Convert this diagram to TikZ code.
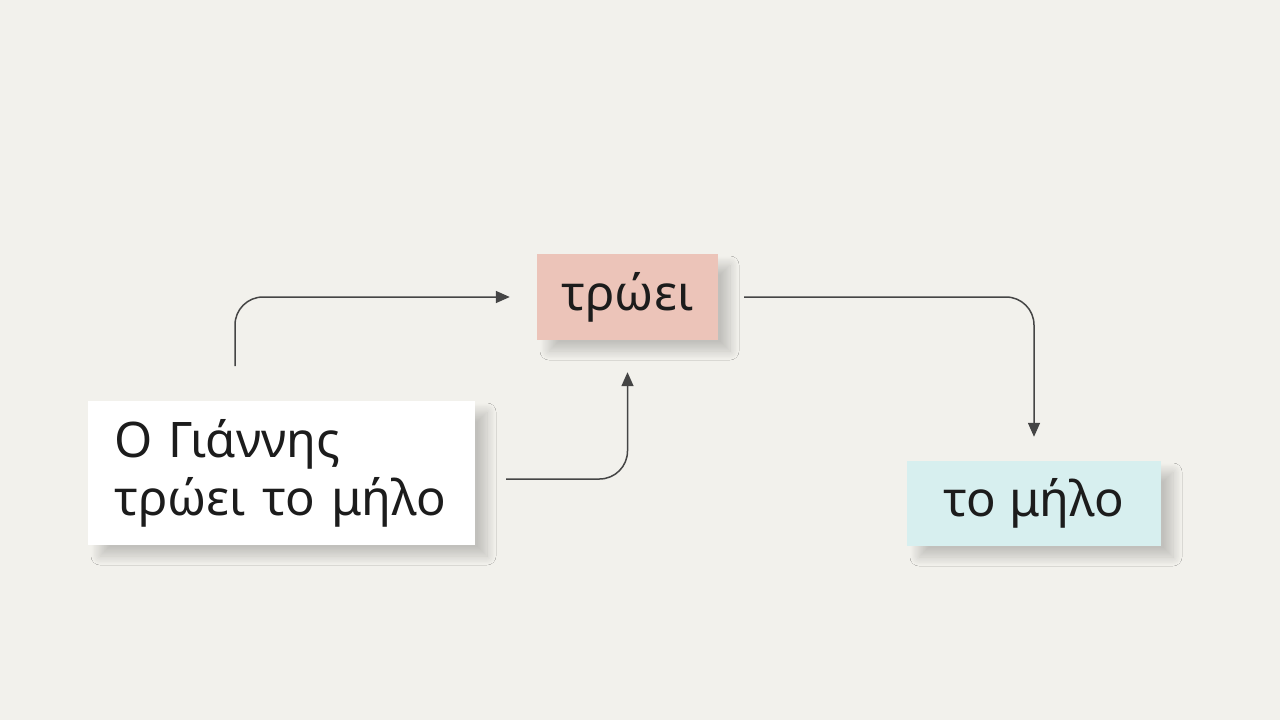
\documentclass[tikz,border=0pt]{standalone}
\usepackage{fontspec}
\setmainfont{Noto Sans}
\usetikzlibrary{shadows.blur,arrows.meta}
\definecolor{bg}{HTML}{F2F1EC}
\definecolor{pinkbox}{HTML}{ECC4B9}
\definecolor{cyanbox}{HTML}{D7EFEF}
\definecolor{arrowcol}{HTML}{454545}
\definecolor{txt}{HTML}{1C1C1C}
\tikzset{
  box/.style={inner sep=0pt, text=txt, font=\fontsize{49}{58}\selectfont,
    blur shadow={shadow xshift=12pt, shadow yshift=-11pt, shadow blur radius=9pt, shadow blur steps=20, shadow opacity=20}},
  arr/.style={draw=arrowcol, line width=1.5pt, rounded corners=28pt,
    -{Triangle[length=14pt,width=12pt]}}
}
\begin{document}
\begin{tikzpicture}[x=1pt,y=-1pt]
\fill[bg] (0,0) rectangle (1280,720);
\useasboundingbox (0,0) rectangle (1280,720);
\node[box, fill=white, minimum width=387pt, minimum height=144pt, text width=335pt, align=left] (A) at (281.5,473) {Ο Γιάννης\\τρώει το μήλο};
\node[box, fill=pinkbox, minimum width=181pt, minimum height=86pt] (B) at (627.5,297) {τρώει};
\node[box, fill=cyanbox, minimum width=254pt, minimum height=85pt] (C) at (1034,503.5) {το μήλο};
\coordinate (a1) at (235,366);
\coordinate (a2) at (506,479);
\draw[arr] (a1) |- ([xshift=-27pt]B.west);
\draw[arr] (a2) -| ([yshift=-32pt]B.south);
\draw[arr] ([xshift=26pt]B.east) -| ([yshift=24pt]C.north);
\end{tikzpicture}
\end{document}
